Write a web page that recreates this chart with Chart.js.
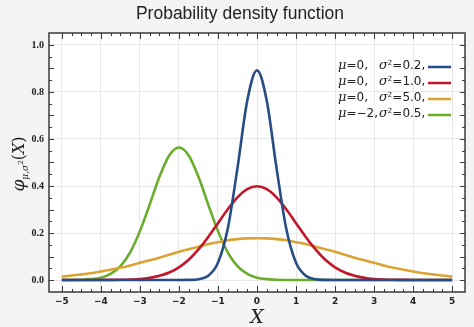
<!DOCTYPE html>
<html>
<head>
<meta charset="utf-8">
<script src="https://cdn.jsdelivr.net/npm/chart.js@4.4.0/dist/chart.umd.min.js"></script>
<style>
  html, body { margin: 0; padding: 0; background: #f3f4f6; }
  canvas { display: block; }
</style>
</head>
<body>
<canvas id="pdf-chart" width="474" height="327"></canvas>
<script>
// ── Data ───────────────────────────────────────────────────
const xValues = [
  -5, -4.75, -4.5, -4.25, -4, -3.75, -3.5, -3.25, -3, -2.75, -2.5, -2.25, -2, -1.75, -1.5, -1.25, -1, -0.75, -0.5, -0.25,
  0, 0.25, 0.5, 0.75, 1, 1.25, 1.5, 1.75, 2, 2.25, 2.5, 2.75, 3, 3.25, 3.5, 3.75, 4, 4.25, 4.5, 4.75, 5
];
const blueValues = [
  0, 0, 0, 0, 0, 0, 0, 0, 0, 0, 0, 0, 0, 0.0004, 0.003, 0.018, 0.073, 0.218, 0.477, 0.763,
  0.892, 0.763, 0.477, 0.218, 0.073, 0.018, 0.003, 0.0004, 0, 0, 0, 0, 0, 0, 0, 0, 0, 0, 0, 0, 0
];
const redValues = [
  0, 0, 0, 0, 0.0001, 0.0004, 0.0009, 0.002, 0.004, 0.009, 0.018, 0.032, 0.054, 0.086, 0.130, 0.183, 0.242, 0.301, 0.352, 0.387,
  0.399, 0.387, 0.352, 0.301, 0.242, 0.183, 0.130, 0.086, 0.054, 0.032, 0.018, 0.009, 0.004, 0.002, 0.0009, 0.0004, 0.0001, 0, 0, 0, 0
];
const orangeValues = [
  0.015, 0.019, 0.024, 0.029, 0.036, 0.044, 0.052, 0.062, 0.073, 0.084, 0.095, 0.108, 0.120, 0.131, 0.142, 0.153, 0.161, 0.169, 0.174, 0.177,
  0.178, 0.177, 0.174, 0.169, 0.161, 0.153, 0.142, 0.131, 0.120, 0.108, 0.095, 0.084, 0.073, 0.062, 0.052, 0.044, 0.036, 0.029, 0.024, 0.019, 0.015
];
const greenValues = [
  0.0001, 0.0003, 0.0011, 0.0036, 0.010, 0.026, 0.059, 0.118, 0.208, 0.321, 0.439, 0.530, 0.564, 0.530, 0.439, 0.321, 0.208, 0.118, 0.059, 0.026,
  0.010, 0.0036, 0.0011, 0.0003, 0.0001, 0, 0, 0, 0, 0, 0, 0, 0, 0, 0, 0, 0, 0, 0, 0, 0
];
const xTicks = [-5, -4, -3, -2, -1, 0, 1, 2, 3, 4, 5];
const yTicks = [0, 0.2, 0.4, 0.6, 0.8, 1.0];
const muLabels = ['=0,', '=0,', '=0,', '=\u22122,'];
const sigmaLabels = ['=0.2,', '=1.0,', '=5.0,', '=0.5,'];

const COLORS = {
  blue: '#264d85',
  red: '#c4162a',
  orange: '#dba336',
  green: '#69ad2a',
  grid: '#e6e8ec',
  frame: '#3a3a3a',
  text: '#222222'
};

const toPoints = ys => xValues.map((x, i) => ({ x, y: ys[i] }));

// draws a list of text runs one after another
function drawRuns(ctx, runs, x, y) {
  let cx = x;
  runs.forEach(r => {
    ctx.font = r.font;
    ctx.fillText(r.t, cx, y + (r.dy || 0));
    cx += ctx.measureText(r.t).width;
  });
  return cx;
}
function runsWidth(ctx, runs) {
  return runs.reduce((w, r) => { ctx.font = r.font; return w + ctx.measureText(r.t).width; }, 0);
}

/**
 * Plot background, inner ticks, frame, titles and legend
 */
const decorPlugin = {
  id: 'decor',
  beforeDraw(chart) {
    const { ctx, chartArea: a } = chart;
    ctx.save();
    ctx.fillStyle = '#ffffff';
    ctx.fillRect(a.left, a.top, a.right - a.left, a.bottom - a.top);
    ctx.restore();
  },
  afterDraw(chart) {
    const { ctx, chartArea: a, scales: { x, y } } = chart;
    ctx.save();

    // inner ticks
    ctx.strokeStyle = COLORS.frame;
    ctx.lineWidth = 1;
    ctx.beginPath();
    for (let i = -20; i <= 20; i++) {
      const v = i / 4;
      const px = Math.round(x.getPixelForValue(v)) + 0.5;
      const len = i % 4 === 0 ? 6 : 3;
      ctx.moveTo(px, a.bottom); ctx.lineTo(px, a.bottom - len);
      ctx.moveTo(px, a.top); ctx.lineTo(px, a.top + len);
    }
    for (let i = 0; i <= 20; i++) {
      const v = i / 20;
      const py = Math.round(y.getPixelForValue(v)) + 0.5;
      const len = i % 2 === 0 ? 5 : 3;
      ctx.moveTo(a.left, py); ctx.lineTo(a.left + len, py);
      ctx.moveTo(a.right, py); ctx.lineTo(a.right - len, py);
    }
    ctx.stroke();

    // frame
    ctx.lineWidth = 1.5;
    ctx.strokeRect(a.left, a.top, a.right - a.left, a.bottom - a.top);

    // title
    ctx.fillStyle = COLORS.text;
    ctx.textAlign = 'center';
    ctx.textBaseline = 'middle';
    ctx.font = '17.5px "Liberation Sans", Arial, sans-serif';
    ctx.fillText('Probability density function', 240, 14);

    // x axis title
    ctx.font = 'italic 19px "DejaVu Serif", serif';
    ctx.fillText('X', (a.left + a.right) / 2, 318);

    // y axis title φ_{μ,σ²}(X)
    ctx.textAlign = 'left';
    ctx.textBaseline = 'alphabetic';
    const yRuns = [
      { t: '\u03c6', font: 'italic 17px "DejaVu Serif", serif' },
      { t: '\u03bc,\u03c3', font: 'italic 9px "DejaVu Serif", serif', dy: 4 },
      { t: '2', font: '7px "DejaVu Serif", serif', dy: -1 },
      { t: '(', font: '16px "DejaVu Serif", serif' },
      { t: 'X', font: 'italic 16px "DejaVu Serif", serif' },
      { t: ')', font: '16px "DejaVu Serif", serif' }
    ];
    ctx.save();
    ctx.translate(24, 164);
    ctx.rotate(-Math.PI / 2);
    drawRuns(ctx, yRuns, -runsWidth(ctx, yRuns) / 2, 0);
    ctx.restore();

    // legend, text first and line sample after it
    ctx.textBaseline = 'middle';
    chart.data.datasets.forEach((ds, i) => {
      const rowY = 66 + i * 16;
      ctx.fillStyle = COLORS.text;
      drawRuns(ctx, [
        { t: '\u03bc', font: 'italic 13px "DejaVu Serif", serif' },
        { t: muLabels[i], font: '12px "DejaVu Sans", sans-serif' }
      ], 338, rowY);
      drawRuns(ctx, [
        { t: '\u03c3', font: 'italic 13px "DejaVu Serif", serif' },
        { t: '2', font: '7px "DejaVu Sans", sans-serif', dy: -3 },
        { t: sigmaLabels[i], font: '12px "DejaVu Sans", sans-serif' }
      ], 379, rowY);
      ctx.strokeStyle = ds.borderColor;
      ctx.lineWidth = 2.5;
      ctx.beginPath();
      ctx.moveTo(428, rowY + 1);
      ctx.lineTo(451, rowY + 1);
      ctx.stroke();
    });

    ctx.restore();
  }
};

const lineStyle = color => ({
  borderColor: color,
  backgroundColor: color,
  borderWidth: 2.6,
  pointRadius: 0,
  fill: false,
  cubicInterpolationMode: 'monotone'
});

new Chart(document.getElementById('pdf-chart'), {
  type: 'line',
  data: {
    datasets: [
      { label: 'mu=0, s2=0.2', data: toPoints(blueValues), ...lineStyle(COLORS.blue) },
      { label: 'mu=0, s2=1.0', data: toPoints(redValues), ...lineStyle(COLORS.red) },
      { label: 'mu=0, s2=5.0', data: toPoints(orangeValues), ...lineStyle(COLORS.orange) },
      { label: 'mu=-2, s2=0.5', data: toPoints(greenValues), ...lineStyle(COLORS.green) }
    ]
  },
  plugins: [decorPlugin],
  options: {
    responsive: false,
    animation: false,
    layout: { padding: { top: 33, right: 9, left: 0, bottom: 0 } },
    plugins: {
      legend: { display: false },
      tooltip: { enabled: false },
      title: { display: false }
    },
    scales: {
      x: {
        type: 'linear',
        min: -5.33,
        max: 5.33,
        afterBuildTicks: s => { s.ticks = xTicks.map(v => ({ value: v })); },
        afterFit: s => { s.height = 35; },
        border: { display: false },
        grid: { color: COLORS.grid, lineWidth: 1, drawTicks: false },
        ticks: {
          color: COLORS.text,
          padding: 4,
          maxRotation: 0,
          font: { family: '"DejaVu Sans", sans-serif', size: 9, weight: 'bold' },
          callback: v => String(v).replace('-', '\u2212')
        }
      },
      y: {
        type: 'linear',
        min: -0.051,
        max: 1.051,
        afterBuildTicks: s => { s.ticks = yTicks.map(v => ({ value: v })); },
        afterFit: s => { s.width = 49; },
        border: { display: false },
        grid: { color: COLORS.grid, lineWidth: 1, drawTicks: false },
        ticks: {
          color: COLORS.text,
          padding: 5,
          font: { family: '"Liberation Serif", serif', size: 10, weight: 'bold' },
          callback: v => v.toFixed(1)
        }
      }
    }
  }
});
</script>
</body>
</html>
